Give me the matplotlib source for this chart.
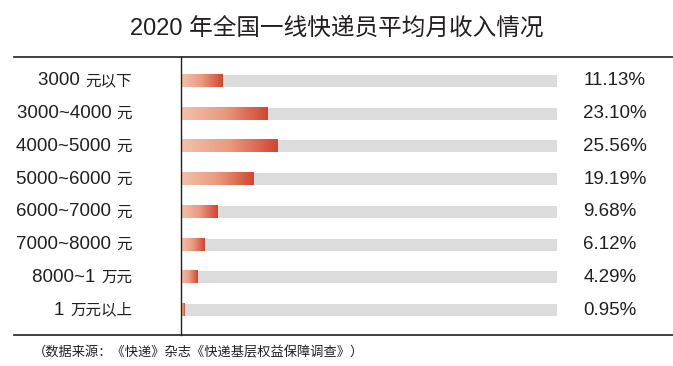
import matplotlib
matplotlib.use('Agg')
import matplotlib.pyplot as plt
import numpy as np
from matplotlib.colors import LinearSegmentedColormap
from matplotlib.lines import Line2D
from matplotlib.transforms import offset_copy

plt.rcParams['font.family'] = ['Liberation Sans', 'Noto Sans CJK SC', 'DejaVu Sans']

categories = ['3000 元以下', '3000~4000 元', '4000~5000 元', '5000~6000 元',
              '6000~7000 元', '7000~8000 元', '8000~1 万元', '1 万元以上']
shares = [11.13, 23.10, 25.56, 19.19, 9.68, 6.12, 4.29, 0.95]
share_labels = ['11.13%', '23.10%', '25.56%', '19.19%', '9.68%', '6.12%', '4.29%', '0.95%']

W, H = 673, 366
fig = plt.figure(figsize=(W / 100, H / 100), dpi=100)
txt = '#231f20'
renderer = fig.canvas.get_renderer()


def split_runs(s):
    # 把标签拆成中文段和数字段，分别用不同字号
    runs = []
    for ch in s:
        cjk = ord(ch) > 0x2e80
        if runs and runs[-1][1] == cjk:
            runs[-1][0] += ch
        else:
            runs.append([ch, cjk])
    return runs


def right_label(ax, x, y, s, size_num=13.5, size_cjk=11.2):
    dx = 0
    for part, cjk in reversed(split_runs(s)):
        tr = offset_copy(ax.transData, fig=fig, x=-dx, y=0, units='dots')
        t = ax.text(x, y, part, ha='right', va='center', transform=tr,
                    fontsize=size_cjk if cjk else size_num, color=txt)
        dx += t.get_window_extent(renderer).width


# 坐标区：x 181..557 像素对应 0..100%，y 57..335 像素
ax = fig.add_axes([181 / W, 1 - 335 / H, (557 - 181) / W, (335 - 57) / H])
ax.axis('off')
ax.set_xlim(0, 100)
ax.set_ylim(7.76, -0.73)

cmap = LinearSegmentedColormap.from_list('bar', ['#f3c2aa', '#e99a80', '#d2452f'])
grad = np.linspace(0, 1, 256).reshape(1, -1)
bh = 0.37
for i, (v, lab) in enumerate(zip(shares, share_labels)):
    ax.barh(i, 100, height=bh, color='#dcdcdd', zorder=1)
    ax.imshow(grad, cmap=cmap, aspect='auto', extent=[0, v, i + bh / 2, i - bh / 2],
              zorder=2, interpolation='bilinear')
    ax.barh(i, 0.55, left=-0.3, height=bh + 0.06, color='#231f20', zorder=3)
    ax.text(107, i, lab, ha='left', va='center', fontsize=13.5, color=txt)
    right_label(ax, -13, i, categories[i])
ax.set_xlim(0, 100)
ax.set_ylim(7.76, -0.73)

# 框线
fig.add_artist(Line2D([14 / W, 1], [1 - 57 / H] * 2, color=txt, lw=1.2))
fig.add_artist(Line2D([14 / W, 1], [1 - 335 / H] * 2, color=txt, lw=1.2))
fig.add_artist(Line2D([181 / W] * 2, [1 - 57 / H, 1 - 335 / H], color=txt, lw=1.0))

fig.text(0.5, 1 - 28 / H, '2020 年全国一线快递员平均月收入情况', ha='center', va='center',
         fontsize=17, color=txt)
fig.text(33 / W, 1 - 353 / H, '（数据来源：《快递》杂志《快递基层权益保障调查》）', ha='left',
         va='center', fontsize=9.5, color=txt)

plt.savefig('out.png', dpi=100)
